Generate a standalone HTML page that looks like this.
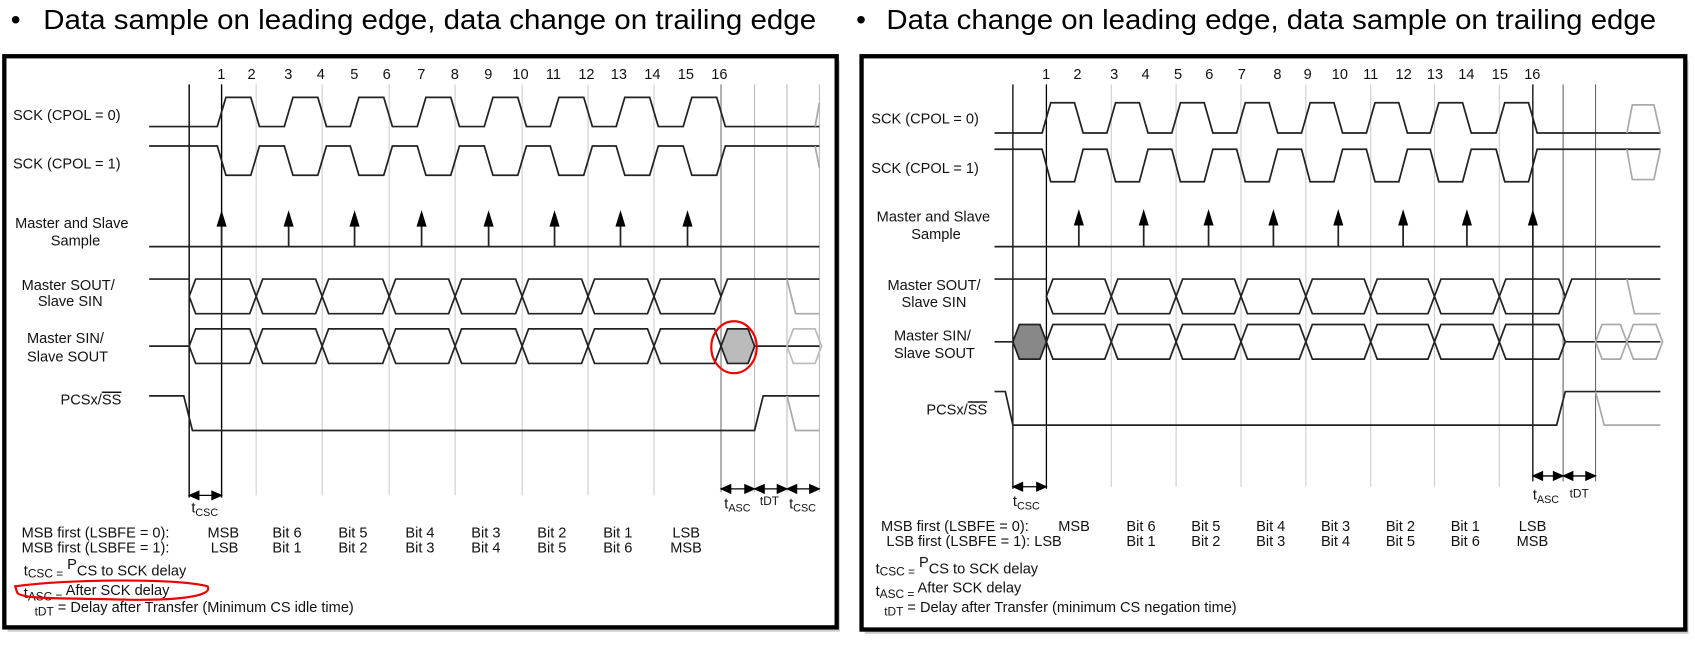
<!DOCTYPE html>
<html><head><meta charset="utf-8"><style>
html,body{margin:0;padding:0;background:#fff;width:1695px;height:649px;overflow:hidden}
svg{display:block}
text{font-family:"Liberation Sans",sans-serif;fill:#111}
.l{font-size:13.5px}
.t{font-size:26px;fill:#000}
</style></head><body>
<svg id="s" width="1695" height="649" viewBox="0 0 1568 600" preserveAspectRatio="none" xmlns="http://www.w3.org/2000/svg">
<rect x="7" y="56" width="770" height="528" fill="#999" opacity="0.5"/>
<rect x="800" y="56" width="762" height="530" fill="#999" opacity="0.5"/>
<rect x="4" y="52" width="770" height="528" fill="#fff" stroke="#000" stroke-width="4"/>
<rect x="797" y="52" width="762" height="530" fill="#fff" stroke="#000" stroke-width="4"/>
<g id="g"></g>
<text class="t" x="10" y="27" font-size="18">•</text>
<text class="t" x="40" y="27" textLength="715" lengthAdjust="spacingAndGlyphs">Data sample on leading edge, data change on trailing edge</text>
<text class="t" x="792" y="27" font-size="18">•</text>
<text class="t" x="820" y="27" textLength="712" lengthAdjust="spacingAndGlyphs">Data change on leading edge, data sample on trailing edge</text>
<text class="t" x="290" y="620">CPHA = 0</text>
<text class="t" x="1105" y="620">CPHA = 1</text>
<!-- left labels -->
<g class="l">
<text x="201" y="73">1</text><text x="229" y="73">2</text><text x="263" y="73">3</text><text x="293" y="73">4</text><text x="324" y="73">5</text><text x="354" y="73">6</text><text x="386" y="73">7</text><text x="417" y="73">8</text><text x="448" y="73">9</text><text x="474" y="73">10</text><text x="505" y="73">11</text><text x="535" y="73">12</text><text x="565" y="73">13</text><text x="596" y="73">14</text><text x="627" y="73">15</text><text x="658" y="73">16</text>
<text x="12" y="111">SCK (CPOL = 0)</text>
<text x="12" y="156">SCK (CPOL = 1)</text>
<text x="14" y="211">Master and Slave</text><text x="47" y="227">Sample</text>
<text x="20" y="268">Master SOUT/</text><text x="35" y="283">Slave SIN</text>
<text x="25" y="317">Master SIN/</text><text x="25" y="334">Slave SOUT</text>
<text x="56" y="374">PCSx/<tspan text-decoration="overline">SS</tspan></text>
<text x="177" y="474">t<tspan font-size="10" dy="3">CSC</tspan></text>
<text x="670" y="470">t<tspan font-size="10" dy="3">ASC</tspan></text>
<text x="703" y="467" font-size="11">tDT</text>
<text x="730" y="470">t<tspan font-size="10" dy="3">CSC</tspan></text>
<text x="20" y="497">MSB first (LSBFE = 0):</text><text x="20" y="511">MSB first (LSBFE = 1):</text>
<text x="192" y="497">MSB</text><text x="195" y="511">LSB</text>
<text x="252" y="497">Bit 6</text><text x="252" y="511">Bit 1</text>
<text x="313" y="497">Bit 5</text><text x="313" y="511">Bit 2</text>
<text x="375" y="497">Bit 4</text><text x="375" y="511">Bit 3</text>
<text x="436" y="497">Bit 3</text><text x="436" y="511">Bit 4</text>
<text x="497" y="497">Bit 2</text><text x="497" y="511">Bit 5</text>
<text x="558" y="497">Bit 1</text><text x="558" y="511">Bit 6</text>
<text x="622" y="497">LSB</text><text x="620" y="511">MSB</text>
<text x="22" y="532">t<tspan font-size="11" dy="2">CSC =</tspan><tspan dy="-8"> P</tspan><tspan dy="6">CS to SCK delay</tspan></text>
<text x="22" y="553">t<tspan font-size="11" dy="2">ASC =</tspan><tspan dy="-5"> After SCK delay</tspan></text>
<text x="32" y="567"><tspan font-size="11" dy="2">tDT</tspan><tspan dy="-3"> = Delay after Transfer (Minimum CS idle time)</tspan></text>
</g>
<!-- right labels -->
<g class="l">
<text x="964" y="73">1</text><text x="993" y="73">2</text><text x="1027" y="73">3</text><text x="1056" y="73">4</text><text x="1086" y="73">5</text><text x="1115" y="73">6</text><text x="1145" y="73">7</text><text x="1178" y="73">8</text><text x="1206" y="73">9</text><text x="1232" y="73">10</text><text x="1261" y="73">11</text><text x="1291" y="73">12</text><text x="1320" y="73">13</text><text x="1349" y="73">14</text><text x="1380" y="73">15</text><text x="1410" y="73">16</text>
<text x="806" y="114">SCK (CPOL = 0)</text>
<text x="806" y="160">SCK (CPOL = 1)</text>
<text x="811" y="205">Master and Slave</text><text x="843" y="221">Sample</text>
<text x="821" y="268">Master SOUT/</text><text x="834" y="284">Slave SIN</text>
<text x="827" y="315">Master SIN/</text><text x="827" y="331">Slave SOUT</text>
<text x="857" y="383">PCSx/<tspan text-decoration="overline">SS</tspan></text>
<text x="937" y="468">t<tspan font-size="10" dy="3">CSC</tspan></text>
<text x="1418" y="462">t<tspan font-size="10" dy="3">ASC</tspan></text>
<text x="1452" y="460" font-size="11">tDT</text>
<text x="815" y="491">MSB first (LSBFE = 0):</text><text x="820" y="505">LSB first (LSBFE = 1): LSB</text>
<text x="979" y="491">MSB</text>
<text x="1042" y="491">Bit 6</text><text x="1042" y="505">Bit 1</text>
<text x="1102" y="491">Bit 5</text><text x="1102" y="505">Bit 2</text>
<text x="1162" y="491">Bit 4</text><text x="1162" y="505">Bit 3</text>
<text x="1222" y="491">Bit 3</text><text x="1222" y="505">Bit 4</text>
<text x="1282" y="491">Bit 2</text><text x="1282" y="505">Bit 5</text>
<text x="1342" y="491">Bit 1</text><text x="1342" y="505">Bit 6</text>
<text x="1405" y="491">LSB</text><text x="1403" y="505">MSB</text>
<text x="810" y="530">t<tspan font-size="11" dy="2">CSC =</tspan><tspan dy="-8"> P</tspan><tspan dy="6">CS to SCK delay</tspan></text>
<text x="810" y="551">t<tspan font-size="11" dy="2">ASC =</tspan><tspan dy="-5"> After SCK delay</tspan></text>
<text x="818" y="567"><tspan font-size="11" dy="2">tDT</tspan><tspan dy="-3"> = Delay after Transfer (minimum CS negation time)</tspan></text>
</g>
<ellipse cx="679" cy="321" rx="21" ry="24" fill="none" stroke="#e00" stroke-width="2"/>
<path d="M14,542 C60,536 160,534 192,542 C198,552 160,556 100,554 C60,553 20,554 16,548 Z" fill="none" stroke="#e00" stroke-width="2"/>
</svg>
<script>
var g=document.getElementById('g'),NS='http://www.w3.org/2000/svg';
function P(d,c,w,f){var p=document.createElementNS(NS,'path');p.setAttribute('d',d);p.setAttribute('stroke',c||'#222');p.setAttribute('stroke-width',w||1.6);p.setAttribute('fill',f||'none');g.appendChild(p);}
function clk(x0,x1,r,h,lo,hi){var d='M'+x0+','+lo;r.forEach(function(x){d+=' L'+(x-4)+','+lo+' L'+(x+4)+','+hi+' L'+(x+h-4)+','+hi+' L'+(x+h+4)+','+lo;});d+=' L'+x1+','+lo;P(d);}
function hex(a,b,t,m,bt,c,f){P('M'+a+','+m+' L'+(a+6)+','+t+' L'+(b-6)+','+t+' L'+b+','+m+' L'+(b-6)+','+bt+' L'+(a+6)+','+bt+' Z',c,1.6,f);}
function arrow(x,y0,y1){P('M'+x+','+y1+' L'+x+','+(y0+10));P('M'+(x-4)+','+(y0+13)+' L'+x+','+y0+' L'+(x+4)+','+(y0+13)+' Z','#000',1,'#000');}
function dim(a,b,y){P('M'+a+','+y+' L'+b+','+y,'#000',1.2);P('M'+(a+9)+','+(y-4)+' L'+a+','+y+' L'+(a+9)+','+(y+4)+'Z','#000',1,'#000');P('M'+(b-9)+','+(y-4)+' L'+b+','+y+' L'+(b-9)+','+(y+4)+'Z','#000',1,'#000');}
// LEFT
var L=[237,298,360,421,483,544,605];L.forEach(function(x){P('M'+x+',78 L'+x+',458','#ccc',1);});
[698,728,758].forEach(function(x){P('M'+x+',78 L'+x+',455','#bbb',1);});
P('M175,78 L175,460','#000',1.3);P('M205,78 L205,460','#000',1.3);P('M667,78 L667,455','#888',1.2);
var R=[205,267,328,390,452,513,574,636];
clk(138,758,R,31,117,90);clk(138,758,R,31,135,162);
P('M754,117 L758,95','#aaa');P('M754,135 L758,155','#aaa');
P('M138,228 L758,228');R.forEach(function(x){arrow(x,196,228);});
var B=[175,237,298,360,421,483,544,605,667],i;
P('M138,258 L175,258');for(i=0;i<8;i++)hex(B[i],B[i+1],258,274,290);P('M667,274 L673,258 L758,258');
P('M728,258 L736,290 L758,290','#aaa');
P('M138,320 L175,320');for(i=0;i<8;i++)hex(B[i],B[i+1],304,320,336);hex(667,698,304,320,336,'#222','#bbb');P('M698,320 L758,320');
hex(728,760,304,320,336,'#bbb');
P('M138,366 L170,366 L178,398 L698,398 L706,366 L758,366');P('M728,366 L736,398 L758,398','#aaa');
dim(175,205,458);dim(667,698,452);dim(698,728,452);dim(728,758,452);
// RIGHT
[1028,1088,1148,1208,1268,1327,1387].forEach(function(x){P('M'+x+',78 L'+x+',450','#ccc',1);});
P('M937,78 L937,452','#000',1.2);P('M968,78 L968,452','#000',1.2);P('M1418,78 L1418,445','#000',1.2);P('M1446,78 L1446,445','#666',1);P('M1476,78 L1476,445','#666',1);
var R2=[968,1028,1088,1148,1208,1268,1327,1388];
clk(920,1536,R2,30,123,95);clk(920,1536,R2,30,138,168);
P('M1505,123 L1510,97 L1530,97 L1536,123','#aaa');P('M1505,138 L1510,166 L1530,166 L1536,138','#aaa');
P('M920,228 L1536,228');R2.forEach(function(x){arrow(x+30,195,228);});
var B2=[968,1028,1088,1148,1208,1268,1327,1387,1448];
P('M920,258 L968,258');for(i=0;i<8;i++)hex(B2[i],B2[i+1],258,274,290);P('M1448,274 L1454,258 L1536,258');P('M1505,258 L1512,290 L1536,290','#aaa');
P('M920,316 L937,316');hex(937,968,300,316,332,'#222','#888');for(i=0;i<8;i++)hex(B2[i],B2[i+1],300,316,332);P('M1448,316 L1536,316');
hex(1476,1505,300,316,332,'#aaa');hex(1505,1538,300,316,332,'#aaa');
P('M920,362 L930,362 L937,393 L1440,393 L1448,362 L1536,362');P('M1476,362 L1484,393 L1536,393','#aaa');
dim(937,968,450);dim(1418,1446,440);dim(1446,1476,440);
</script>
</body></html>
